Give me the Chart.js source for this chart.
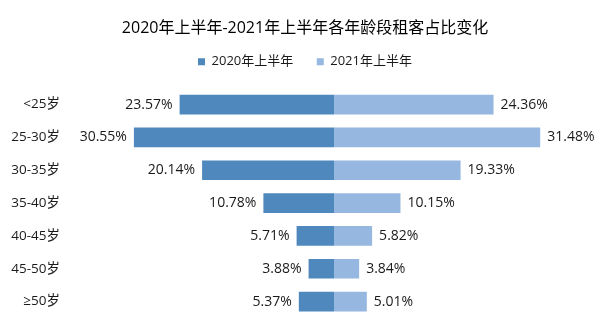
<!DOCTYPE html>
<html>
<head>
<meta charset="utf-8">
<script src="https://cdn.jsdelivr.net/npm/chart.js@4"></script>
<style>
  html, body { margin: 0; padding: 0; background: #fff; }
  #wrap { width: 610px; height: 333px; }
</style>
</head>
<body>
<div id="wrap"><canvas id="ageChart"></canvas></div>
<script>
const ageGroups = ['<25岁', '25-30岁', '30-35岁', '35-40岁', '40-45岁', '45-50岁', '≥50岁'];
const share2020 = [23.57, 30.55, 20.14, 10.78, 5.71, 3.88, 5.37];
const share2021 = [24.36, 31.48, 19.33, 10.15, 5.82, 3.84, 5.01];
const seriesNames = ['2020年上半年', '2021年上半年'];

const FONT = "'Open Sans', 'Noto Sans CJK SC', sans-serif";

// percentage labels at the outer end of each bar
const endLabels = {
  id: 'endLabels',
  afterDatasetsDraw(chart) {
    const ctx = chart.ctx;
    ctx.save();
    ctx.font = '14px ' + FONT;
    ctx.fillStyle = '#1a1a1a';
    ctx.textBaseline = 'middle';
    chart.data.datasets.forEach((ds, i) => {
      const meta = chart.getDatasetMeta(i);
      meta.data.forEach((bar, j) => {
        const v = Math.abs(ds.data[j]).toFixed(2) + '%';
        if (ds.data[j] < 0) {
          ctx.textAlign = 'right';
          ctx.fillText(v, bar.x - 7, bar.y);
        } else {
          ctx.textAlign = 'left';
          ctx.fillText(v, bar.x + 7, bar.y);
        }
      });
    });
    ctx.restore();
  }
};

new Chart(document.getElementById('ageChart'), {
  type: 'bar',
  data: {
    labels: ageGroups,
    datasets: [{
      label: seriesNames[0],
      data: share2020.map(v => -v),
      backgroundColor: '#4f88bc'
    }, {
      label: seriesNames[1],
      data: share2021,
      backgroundColor: '#96b8e0'
    }]
  },
  options: {
    indexAxis: 'y',
    responsive: true,
    maintainAspectRatio: false,
    animation: false,
    categoryPercentage: 1,
    barPercentage: 0.6,
    layout: { padding: { left: 0, right: 0, bottom: 15 } },
    scales: {
      x: {
        stacked: true,
        position: 'top',
        min: -40,
        max: 40,
        grid: { display: false, drawTicks: false },
        border: { display: false },
        ticks: { display: false },
        // hidden axis, only keeps some room under the legend
        afterFit(scale) { scale.height = 10; }
      },
      y: {
        stacked: true,
        grid: { display: false, drawTicks: false },
        border: { display: false },
        ticks: { color: '#1a1a1a', font: { family: FONT, size: 13.5 }, padding: 12 },
        afterFit(scale) {
          scale.width = 72;
          scale.paddingTop = 0;
          scale.paddingBottom = 0;
        }
      },
      // empty right-hand axis used as a margin
      yRight: {
        type: 'category',
        axis: 'y',
        position: 'right',
        grid: { display: false, drawTicks: false },
        border: { display: false },
        ticks: { display: false },
        afterFit(scale) {
          scale.width = 14;
          scale.paddingTop = 0;
          scale.paddingBottom = 0;
        }
      }
    },
    plugins: {
      title: {
        display: true,
        text: '2020年上半年-2021年上半年各年龄段租客占比变化',
        color: '#000',
        font: { family: FONT, size: 16, weight: 'normal' },
        padding: { top: 19, bottom: 7 }
      },
      legend: {
        labels: {
          color: '#1a1a1a',
          font: { family: FONT, size: 13 },
          boxWidth: 7,
          boxHeight: 7,
          padding: 10,
          // widen the gap between the two entries
          generateLabels(chart) {
            const items = Chart.defaults.plugins.legend.labels.generateLabels(chart);
            items[0].text += '    ';
            return items;
          }
        }
      },
      tooltip: { enabled: false }
    }
  },
  plugins: [endLabels]
});
</script>
</body>
</html>
